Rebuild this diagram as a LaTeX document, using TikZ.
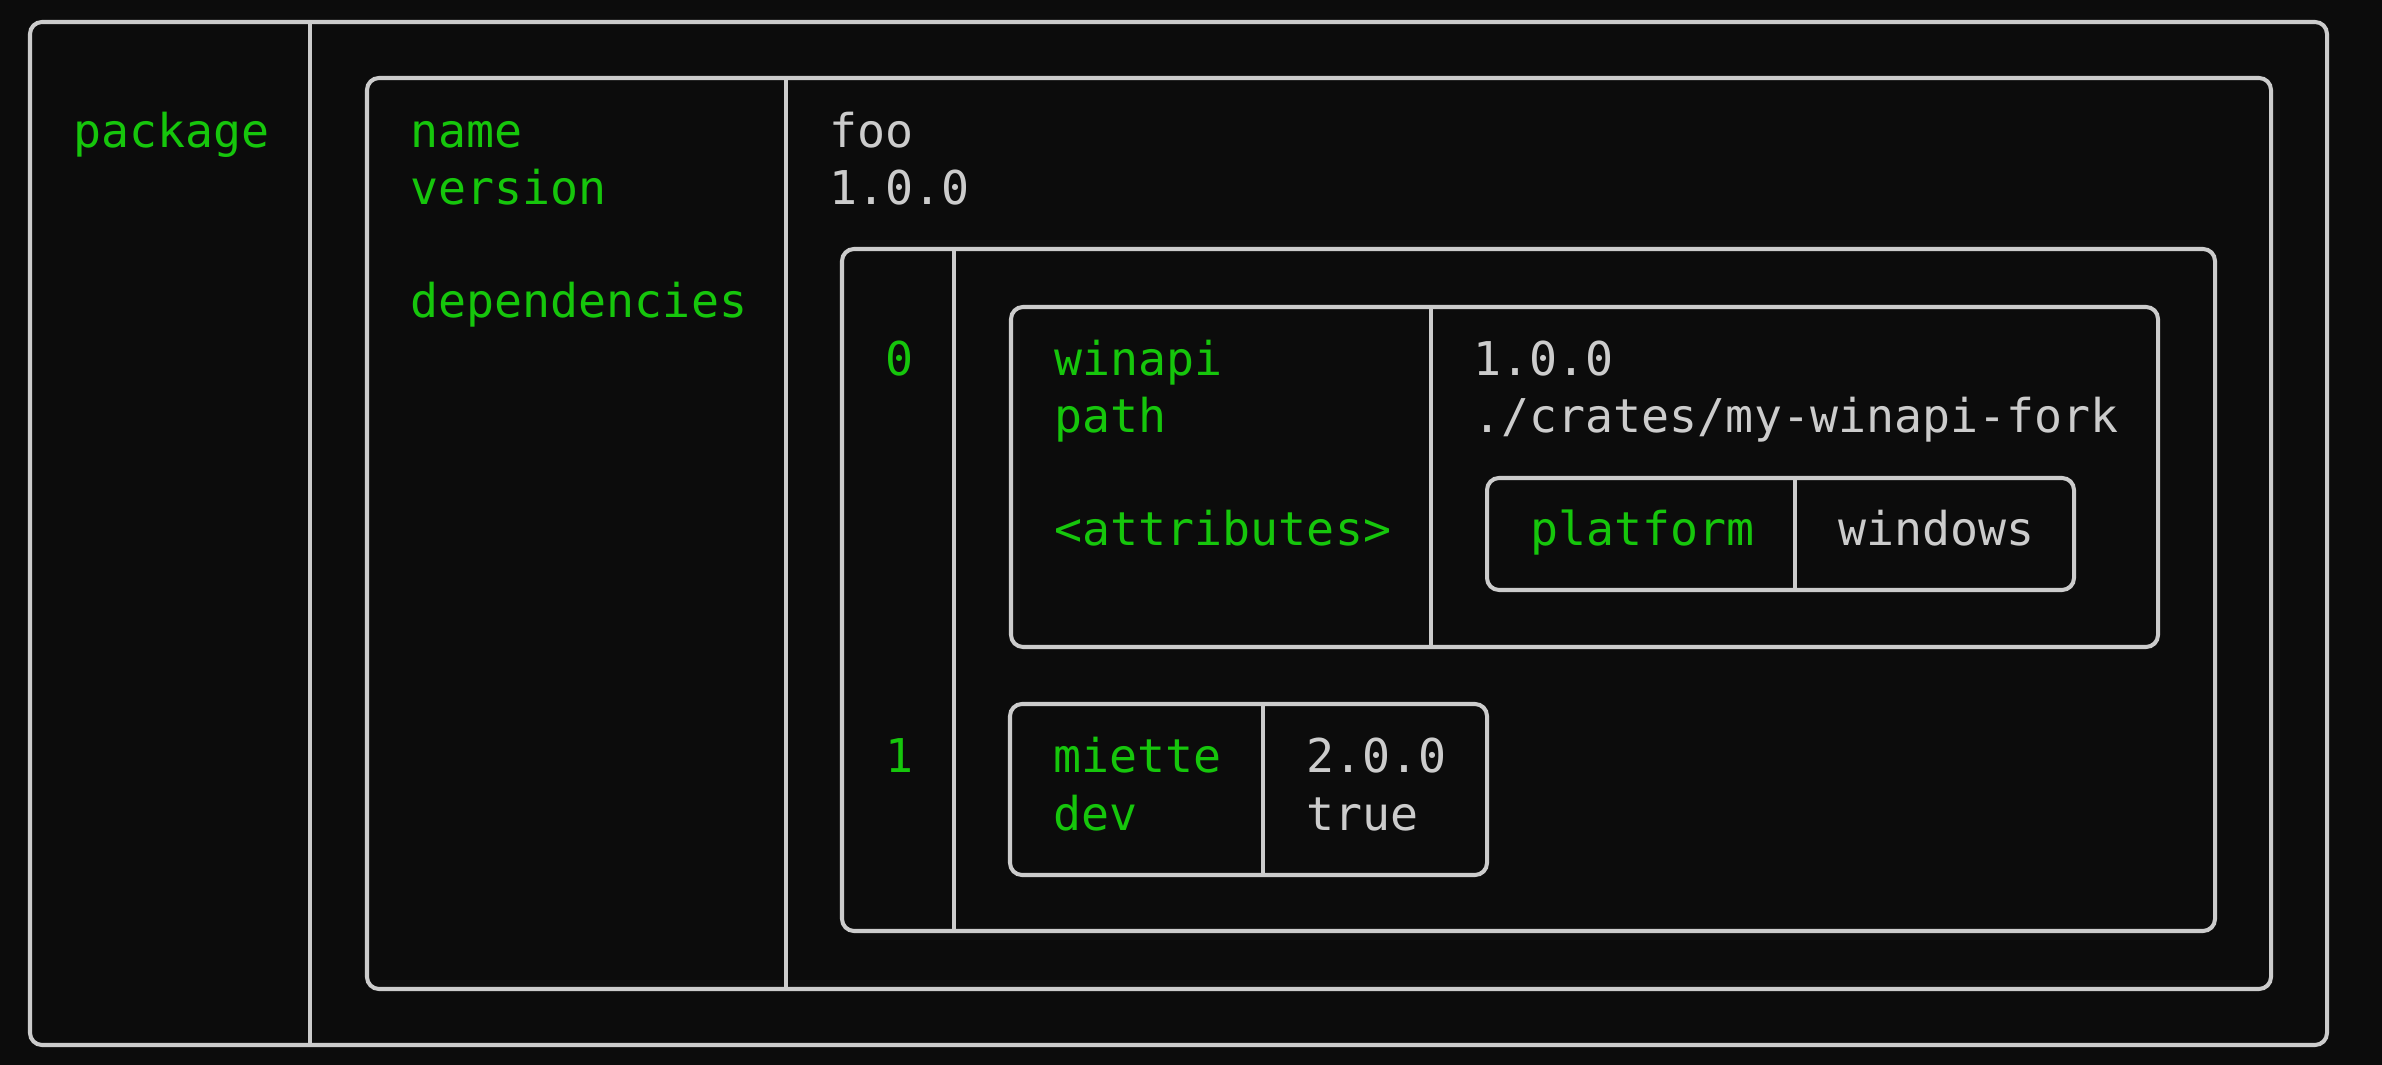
\documentclass[tikz,border=0pt]{standalone}
\usepackage{fontspec}
\setmonofont{DejaVu Sans Mono}
\definecolor{termbg}{HTML}{0C0C0C}
\definecolor{termline}{HTML}{CCCCCC}
\definecolor{termgreen}{HTML}{16C60C}
\definecolor{termtext}{HTML}{CCCCCC}
\tikzset{
  frame/.style={termline, line width=1.15pt, rounded corners=0.12cm},
  sep/.style={termline, line width=1.15pt},
  keytxt/.style={anchor=base west, inner sep=0pt, text=termgreen},
  valtxt/.style={anchor=base west, inner sep=0pt, text=termtext},
}

\begin{document}
\begin{tikzpicture}[x=0.01cm, y=-0.01cm, font=\ttfamily\fontsize{13.24pt}{16pt}\selectfont]
\fill[termbg] (0,0) rectangle (2382,1065);

% outer table
\draw[frame] (30,22) rectangle (2327,1045);
\draw[sep] (310,22) -- (310,1045);
\node[keytxt] (pkg) at (73,148) {package};

% package record
\draw[frame] (367,78) rectangle (2271,989);
\draw[sep] (786,78) -- (786,989);
\node[keytxt] (name) at (410,148) {name};
\node[keytxt] (ver) at (410,205) {version};
\node[keytxt] (deps) at (410,318) {dependencies};
\node[valtxt] (foo) at (829,148) {foo};
\node[valtxt] (fooVer) at (829,205) {1.0.0};

% dependency list
\draw[frame] (842,249) rectangle (2215,931);
\draw[sep] (954,249) -- (954,931);
\node[keytxt] (idxA) at (885,376) {0};
\node[keytxt] (idxB) at (885,773) {1};

% winapi
\draw[frame] (1011,307) rectangle (2158,647);
\draw[sep] (1431,307) -- (1431,647);
\node[keytxt] (winapi) at (1054,376) {winapi};
\node[keytxt] (path) at (1054,433) {path};
\node[keytxt] (attrs) at (1054,546) {<attributes>};
\node[valtxt] (winVer) at (1473,376) {1.0.0};
\node[valtxt] (winPath) at (1473,433) {./crates/my-winapi-fork};

% attributes
\draw[frame] (1487,478) rectangle (2074,590);
\draw[sep] (1795,478) -- (1795,590);
\node[keytxt] (plat) at (1530,546) {platform};
\node[valtxt] (windows) at (1838,546) {windows};

% miette
\draw[frame] (1010,704) rectangle (1487,875);
\draw[sep] (1263,704) -- (1263,875);
\node[keytxt] (miette) at (1053,773) {miette};
\node[keytxt] (dev) at (1053,831) {dev};
\node[valtxt] (mieVer) at (1306,773) {2.0.0};
\node[valtxt] (mieDev) at (1306,831) {true};
\end{tikzpicture}
\end{document}
